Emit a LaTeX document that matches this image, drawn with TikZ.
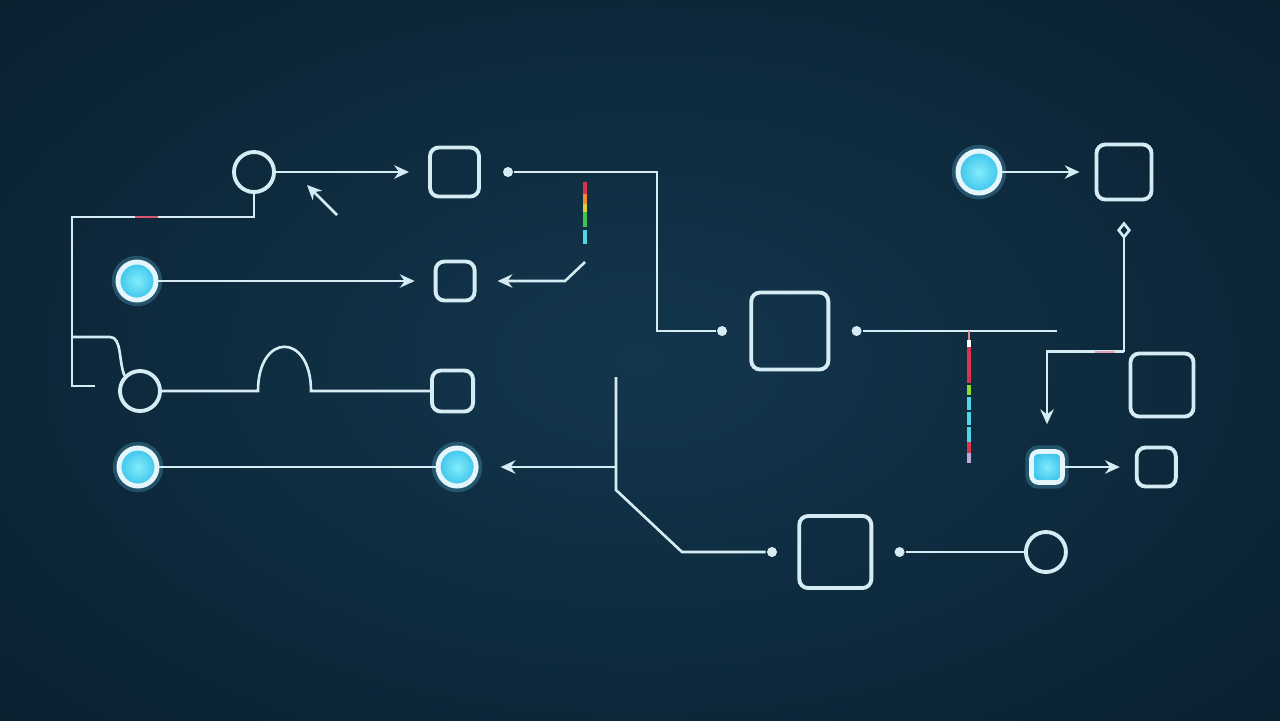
\documentclass[tikz,border=0pt]{standalone}
\usepackage{tikz}
\usetikzlibrary{positioning,arrows.meta}
\definecolor{wire}{RGB}{214,236,244}
\definecolor{rim}{RGB}{228,246,252}
\definecolor{bgin}{RGB}{19,54,77}
\definecolor{bgout}{RGB}{9,31,46}
\definecolor{glowin}{RGB}{130,236,252}
\definecolor{glowout}{RGB}{60,195,235}
\definecolor{rred}{RGB}{220,50,75}
\definecolor{rorange}{RGB}{240,140,40}
\definecolor{ryellow}{RGB}{215,210,50}
\definecolor{rgreen}{RGB}{60,200,80}
\definecolor{rcyan}{RGB}{80,215,230}
\definecolor{rlilac}{RGB}{190,170,220}

\begin{document}
\begin{tikzpicture}[x=0.01cm,y=-0.01cm,color=wire,line width=0.75pt,
    >={Stealth[length=4.2pt,width=3.8pt]},
    ring/.style={circle,draw=wire,line width=1.1pt,inner sep=0pt,minimum size=0.4cm},
    glow/.style={circle,draw=rim,line width=1.4pt,inner sep=0pt,minimum size=0.38cm,
        inner color=glowin,outer color=glowout,preaction={draw=cyan!60,line width=3.5pt,opacity=0.25}},
    glowbox/.style={rectangle,rounded corners=2pt,draw=rim,line width=1.3pt,inner sep=0pt,minimum size=0.31cm,
        inner color=glowin,outer color=glowout,preaction={draw=cyan!60,line width=3.5pt,opacity=0.25}},
    box/.style={rectangle,rounded corners=2.5pt,draw=wire,line width=1.1pt,inner sep=0pt,minimum size=#1},
    dot/.style={circle,fill=wire,inner sep=0pt,minimum size=0.1cm}]

	\useasboundingbox (0,0) rectangle (1280,720);
	\fill[inner color=bgin,outer color=bgout] (-300,-200) rectangle (1580,920);

	\node[ring] (c1) at (254,172) {};
	\node[box=0.49cm,right=1.52cm of c1] (s1) {};
	\draw[->,shorten >=0.19cm] (c1) -- (s1);

	\node[glow] (c2) at (137,281) {};
	\node[box=0.39cm,right=2.75cm of c2] (s2) {};
	\draw[->,shorten >=0.19cm] (c2) -- (s2);

	\node[ring] (c3) at (140,391) {};
	\node[box=0.41cm,right=2.68cm of c3] (s3) {};
	\coordinate (h1) at (258,391);
	\coordinate (h2) at (311,391);
	\draw (c3) -- (h1) .. controls +(0,-59) and +(0,-59) .. (h2) -- (s3);

	\node[glow] (c4) at (138,467) {};
	\node[glow,right=2.76cm of c4] (c5) {};
	\draw (c4) -- (c5);

	% left bus
	\coordinate (b1) at (72,217);
	\coordinate (b2) at (95,386);
	\coordinate (b3) at (72,337);
	\draw (c1.south) |- (b1) |- (b2);
	\draw (b3) -- ++(38,0) .. controls +(12,0) and +(-6,-14) .. (c3.north west);
	\draw[rred,opacity=0.8] (135,217) -- (158,217);

	\coordinate (k1) at (337,215);
	\coordinate (k2) at (307,185);
	\draw[->] (k1) -- (k2);

	\node[dot] (d1) at (508,172) {};
	\node[dot] (d2) at (722,331) {};
	\node[box=0.77cm,right=0.21cm of d2] (s4) {};
	\node[dot,right=0.2cm of s4] (d3) {};
	\coordinate (a1) at (657,172);
	\coordinate (w1) at (1057,331);
	\draw (d1) -- (a1) |- (d2);
	\draw (d3) -- (w1);

	\coordinate (k3) at (585,262);
	\draw[->,shorten >=0.21cm] (k3) -- ++(-20,19) -- (s2);

	\node[dot] (d5) at (772,552) {};
	\node[box=0.72cm,right=0.19cm of d5] (s5) {};
	\node[dot,right=0.2cm of s5] (d6) {};
	\node[ring,right=1.18cm of d6] (c6) {};
	\draw (d6) -- (c6);
	\coordinate (t1) at (616,377);
	\coordinate (t2) at (616,467);
	\coordinate (t3) at (616,490);
	\coordinate (t4) at (682,552);
	\draw (t1) -- (t3) -- (t4) -- (d5);
	\draw[->,shorten >=0.22cm] (t2) -- (c5);

	\node[glow,minimum size=0.42cm] (c7) at (979,172) {};
	\node[box=0.55cm,right=0.92cm of c7] (s6) {};
	\draw[->,shorten >=0.15cm] (c7) -- (s6);
	\node[box=0.63cm] (s7) at (1162,385) {};
	\node[glowbox] (g1) at (1047,467) {};
	\node[box=0.39cm,right=0.7cm of g1] (s8) {};
	\coordinate (j2) at (s6.south |- s7.north);
	\draw[-{Diamond[open,length=5pt,width=4pt]},shorten >=0.2cm] (j2) -- (s6.south);
	\draw[->,shorten >=0.25cm] (j2) -| (g1);
	\draw[->,shorten >=0.15cm] (g1) -- (s8);
	\draw[rred!60,opacity=0.7] (1095,352) -- (1115,352);

	% colour bars
	\foreach \a/\b/\c in {182/194/rred,194/204/rorange,204/212/ryellow,212/227/rgreen,230/244/rcyan}
		\draw[\c,line width=0.9pt] (585,\a) -- (585,\b);
	\draw[rred!60,line width=0.5pt] (969,331) -- (969,340);
	\foreach \a/\b/\c in {340/347/white,347/383/rred,385/395/rgreen!60!yellow,397/410/rcyan,412/425/rcyan,427/442/rcyan,442/453/rred,453/463/rlilac}
		\draw[\c,line width=0.9pt] (969,\a) -- (969,\b);
\end{tikzpicture}
\end{document}
